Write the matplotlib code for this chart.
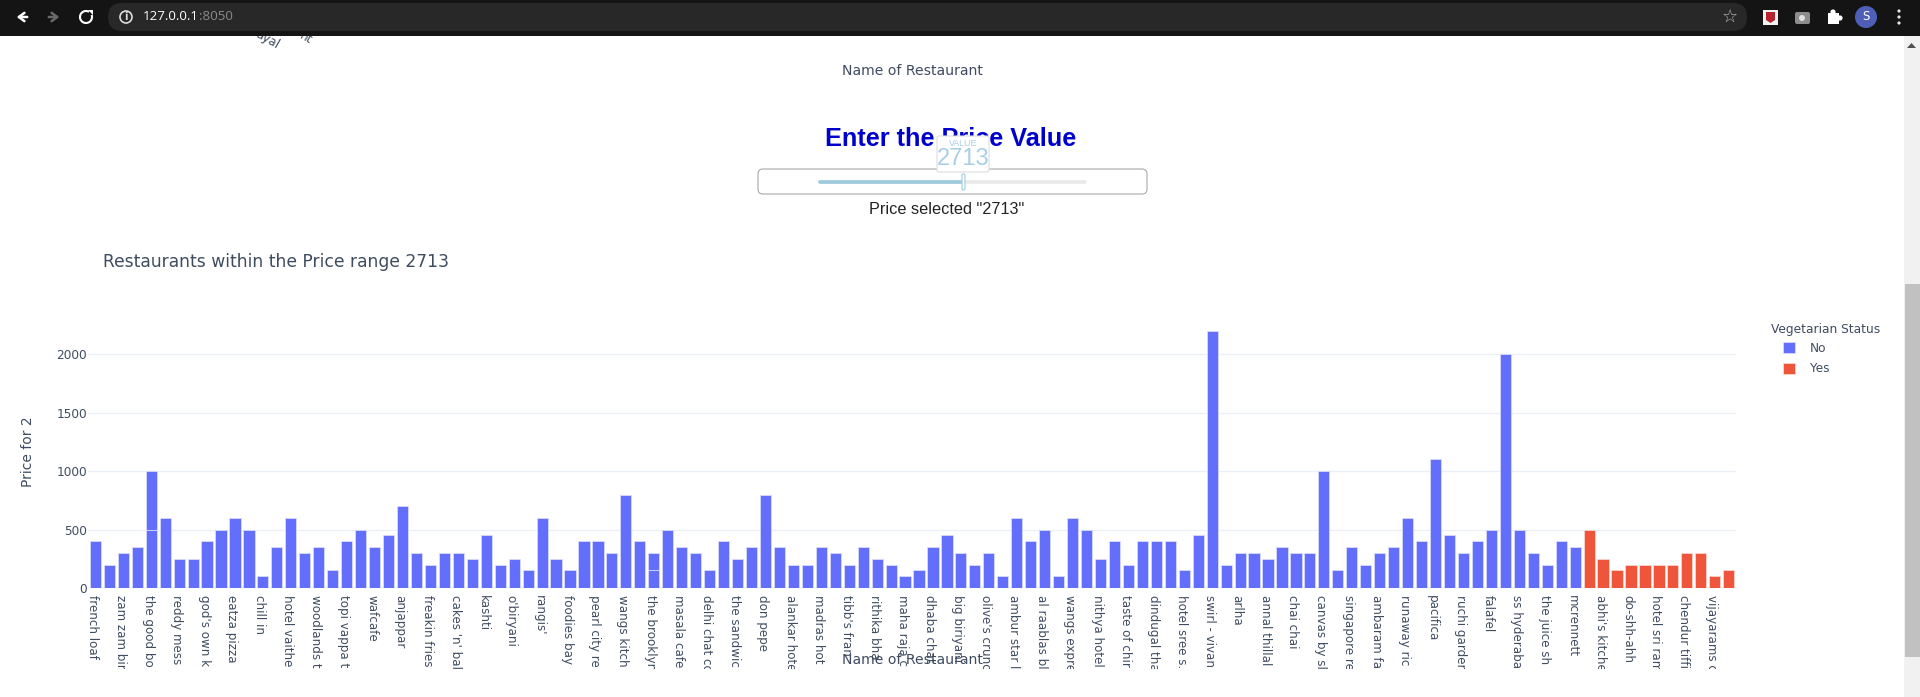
import matplotlib
matplotlib.use("Agg")
import matplotlib.pyplot as plt
import numpy as np
from matplotlib.patches import Circle, FancyBboxPatch, Polygon, Rectangle, Arc
from matplotlib.transforms import Bbox, ScaledTranslation

no_prices = [
    400, 200, 300, 350, 500, 600, 250, 250, 400, 500, 600, 500, 100, 350, 600, 300,
    350, 150, 400, 500, 350, 450, 700, 300, 200, 300, 300, 250, 450, 200, 250, 150,
    600, 250, 150, 400, 400, 300, 800, 400, 150, 500, 350, 300, 150, 400, 250, 350,
    800, 350, 200, 200, 350, 300, 200, 350, 250, 200, 100, 150, 350, 450, 300, 200,
    300, 100, 600, 400, 500, 100, 600, 500, 250, 400, 200, 400, 400, 400, 150, 450,
    2200, 200, 300, 300, 250, 350, 300, 300, 1000, 150, 350, 200, 300, 350, 600, 400,
    1100, 450, 300, 400, 500, 2000, 500, 300, 200, 400, 350,
]
# two bars are made of two stacked rows, a pale line shows at the join
stacked_index = [4, 40]
stacked_values = [500, 150]
yes_prices = [500, 250, 150, 200, 200, 200, 200, 300, 300, 100, 150]

tick_labels = [
    "french loaf", "zam zam bir", "the good bo", "reddy mess", "god's own k", "eatza pizza",
    "chill in", "hotel vaithe", "woodlands t", "topi vappa t", "wafcafe", "anjappar",
    "freakin fries", "cakes 'n' bal", "kashti", "o'biryani", "rangis'", "foodies bay",
    "pearl city re", "wangs kitch", "the brooklyn", "masala cafe", "delhi chat co",
    "the sandwic", "don pepe", "alankar hote", "madras hot", "tibb's fran", "rithika bha",
    "maha raja c", "dhaba chat", "big biriyani", "olive's crunc", "ambur star l",
    "al raablas bl", "wangs expre", "nithya hotel", "taste of chir", "dindugal tha",
    "hotel sree s.", "swirl - vivan", "arlha", "annal thillal", "chai chai", "canvas by sl",
    "singapore re", "ambaram fa", "runaway ric", "pacifica", "ruchi garder", "falafel",
    "ss hyderaba", "the juice sh", "mcrennett", "abhi's kitche", "do-shh-ahh",
    "hotel sri ram", "chendur tiffi", "vijayarams c",
]
y_ticks = [0, 500, 1000, 1500, 2000]

W, H = 1920, 697
TEXT = "#3f4c60"
plt.rcParams["font.family"] = ["DejaVu Sans"]

fig = plt.figure(figsize=(W / 100, H / 100), dpi=100, facecolor="white")

# plot area, in pixels of the screenshot
left, right, top, bottom = 88.4, 1735.7, 317.4, 588.0
ax = fig.add_axes([left / W, 1 - bottom / H, (right - left) / W, (bottom - top) / H])

x_no = np.arange(len(no_prices))
x_yes = np.arange(len(yes_prices)) + len(no_prices)
bars_no = ax.bar(x_no, no_prices, width=0.8, color="#636EFA", edgecolor="#dfe2fe", linewidth=0.5)
extra_bottom = [no_prices[i] for i in stacked_index]
ax.bar(stacked_index, stacked_values, bottom=extra_bottom, width=0.8, color="#636EFA",
       edgecolor="#dfe2fe", linewidth=0.5)
bars_yes = ax.bar(x_yes, yes_prices, width=0.8, color="#EF553B", edgecolor="#fcdcd6", linewidth=0.5)

ax.set_xlim(-0.5, len(no_prices) + len(yes_prices) - 0.5)
ax.set_ylim(0, 2315.8)
ax.set_yticks(y_ticks)
ax.set_yticklabels([str(v) for v in y_ticks], fontsize=8.7, color=TEXT)
ax.set_xticks(np.arange(len(tick_labels)) * 2)
ax.set_xticklabels(tick_labels, rotation=270, fontsize=8.6, color=TEXT, ha="center", va="top")
ax.tick_params(axis="both", length=0)
ax.tick_params(axis="x", pad=5)
ax.tick_params(axis="y", pad=1)
ax.grid(axis="y", color="#EBF0F8", linewidth=1)
ax.set_axisbelow(True)
for spine in ax.spines.values():
    spine.set_visible(False)
ax.axhline(0, color="#EBF0F8", linewidth=2, zorder=0.5)

# plotly cuts the long names at the bottom margin
clip = Bbox([[0, H - 669], [W, H - 590]])
nudge = ScaledTranslation(-0.03, 0, fig.dpi_scale_trans)
for lab in ax.get_xticklabels():
    lab.set_transform(lab.get_transform() + nudge)
    lab.set_clip_box(clip)
    lab.set_clip_on(True)

ax.legend([bars_no[0], bars_yes[0]], ["No", "Yes"], loc="upper left",
          bbox_to_anchor=(1783 / W, 1 - 342 / H), bbox_transform=fig.transFigure,
          frameon=False, fontsize=8.7, handlelength=1, handleheight=1, handletextpad=1.2,
          labelspacing=0.6, borderpad=0, borderaxespad=0, labelcolor=TEXT)

# everything else on the page, drawn in screenshot pixels
ui = fig.add_axes([0, 0, 1, 1], zorder=5)
ui.set_xlim(0, W)
ui.set_ylim(H, 0)
ui.axis("off")

ui.text(1771, 329, "Vegetarian Status", fontsize=8.8, color=TEXT, va="center")
ui.text(103, 262, "Restaurants within the Price range 2713", fontsize=12.3, color=TEXT, va="center")
ui.text(28, 452, "Price for 2", fontsize=10, color=TEXT, rotation=90, ha="center", va="center")
ui.text(912, 660, "Name of Restaurant", fontsize=10.1, color=TEXT, ha="center", va="center")
ui.text(912, 71, "Name of Restaurant", fontsize=10.1, color=TEXT, ha="center", va="center")
ui.text(267, 40, "ayal", fontsize=8.6, color=TEXT, rotation=-30, ha="center", va="center", zorder=1)
ui.text(306, 38, "nt", fontsize=8.6, color=TEXT, rotation=-30, ha="center", va="center", zorder=1)

# slider block, the value bubble sits over the heading
arial = "Liberation Sans"
ui.text(951, 139, "Enter the Price Value", fontsize=18.2, fontweight="bold", color="#0000CD",
        family=arial, ha="center", va="center", zorder=2)
ui.add_patch(FancyBboxPatch((758, 169), 389, 25, boxstyle="round,pad=0,rounding_size=5",
                            fc="white", ec="#aaaaaa", lw=0.8, zorder=2))
ui.plot([820, 1085], [182, 182], color="#e9e9e9", lw=2.6, solid_capstyle="round", zorder=3)
ui.plot([820, 963], [182, 182], color="#9ccbdf", lw=2.6, solid_capstyle="round", zorder=3)
ui.add_patch(FancyBboxPatch((962, 174), 3, 16, boxstyle="round,pad=0,rounding_size=1.5",
                            fc="white", ec="#9ccbdf", lw=0.8, zorder=4))
ui.add_patch(FancyBboxPatch((937, 136), 52, 36, boxstyle="round,pad=0,rounding_size=2",
                            fc="white", ec="#dddddd", lw=0.8, zorder=4))
ui.text(963, 143, "VALUE", fontsize=6.4, color="#a8d0e4", family=arial, ha="center", va="center", zorder=5)
ui.text(963, 159, "2713", fontsize=17, color="#a8d0e4", family=arial, ha="center", va="center", zorder=5)
ui.text(947, 210, 'Price selected "2713"', fontsize=11.7, color="#222222", family=arial,
        ha="center", va="center")

# browser bar
ui.add_patch(Rectangle((0, 0), W, 36, fc="#141414", ec="none", zorder=6))
ui.add_patch(FancyBboxPatch((108, 3), 1639, 28, boxstyle="round,pad=0,rounding_size=14",
                            fc="#282828", ec="none", zorder=6))
ui.annotate("", xy=(14, 17), xytext=(30, 17), zorder=7,
            arrowprops=dict(arrowstyle="->,head_width=0.3,head_length=0.4", color="white", lw=1.8))
ui.annotate("", xy=(62, 17), xytext=(46, 17), zorder=7,
            arrowprops=dict(arrowstyle="->,head_width=0.3,head_length=0.4", color="#6a6a6a", lw=1.8))
ui.add_patch(Arc((86, 17), 12, 12, theta1=-20, theta2=300, color="white", lw=1.5, zorder=7))
ui.add_patch(Polygon([[88, 10], [93, 10], [93, 15]], fc="white", ec="none", zorder=7))
ui.add_patch(Circle((126, 17), 6, fc="none", ec="#dddddd", lw=1.2, zorder=7))
ui.text(126, 17.5, "i", fontsize=7, color="#dddddd", ha="center", va="center", fontweight="bold", zorder=7)
url = ui.text(143, 17, "127.0.0.1", fontsize=9.6, color="white", family="Open Sans", va="center", zorder=7)
ui.annotate(":8050", xy=(1, 0.5), xycoords=url, va="center", fontsize=9.6, color="#8a8a8a",
            family="Open Sans", zorder=7)
ui.text(1730, 17, "\u2606", fontsize=13, color="#b8b8b8", ha="center", va="center", zorder=7)
ui.add_patch(Rectangle((1763, 10), 15, 15, fc="#f2f2f2", ec="none", zorder=7))
ui.add_patch(Polygon([[1766, 12], [1775, 12], [1775, 20], [1770.5, 23], [1766, 20]],
                     fc="#b8232f", ec="none", zorder=8))
ui.add_patch(FancyBboxPatch((1795, 12), 15, 12, boxstyle="round,pad=0,rounding_size=2",
                            fc="#8c8c8c", ec="none", zorder=7))
ui.add_patch(Circle((1802, 18), 3, fc="#e0e0e0", ec="none", zorder=8))
ui.add_patch(Rectangle((1828, 13), 11, 11, fc="white", ec="none", zorder=7))
ui.add_patch(Circle((1833, 12), 2.6, fc="white", ec="none", zorder=7))
ui.add_patch(Circle((1840, 18), 2.6, fc="white", ec="none", zorder=7))
ui.add_patch(Circle((1866, 17), 11, fc="#4f5fb8", ec="none", zorder=7))
ui.text(1866, 17, "S", fontsize=8.5, color="white", ha="center", va="center", zorder=8)
for dot_y in [11, 17, 23]:
    ui.add_patch(Circle((1899, dot_y), 1.6, fc="#e8e8e8", ec="none", zorder=7))

# page scrollbar
ui.add_patch(Rectangle((1904, 36), 16, H - 36, fc="#f1f1f1", ec="none", zorder=6))
ui.add_patch(Rectangle((1905, 284), 15, 373, fc="#c1c1c1", ec="none", zorder=7))
ui.add_patch(Polygon([[1907, 48], [1911.5, 43], [1916, 48]], fc="#505050", ec="none", zorder=7))

fig.savefig("out.png", dpi=100, facecolor="white")
